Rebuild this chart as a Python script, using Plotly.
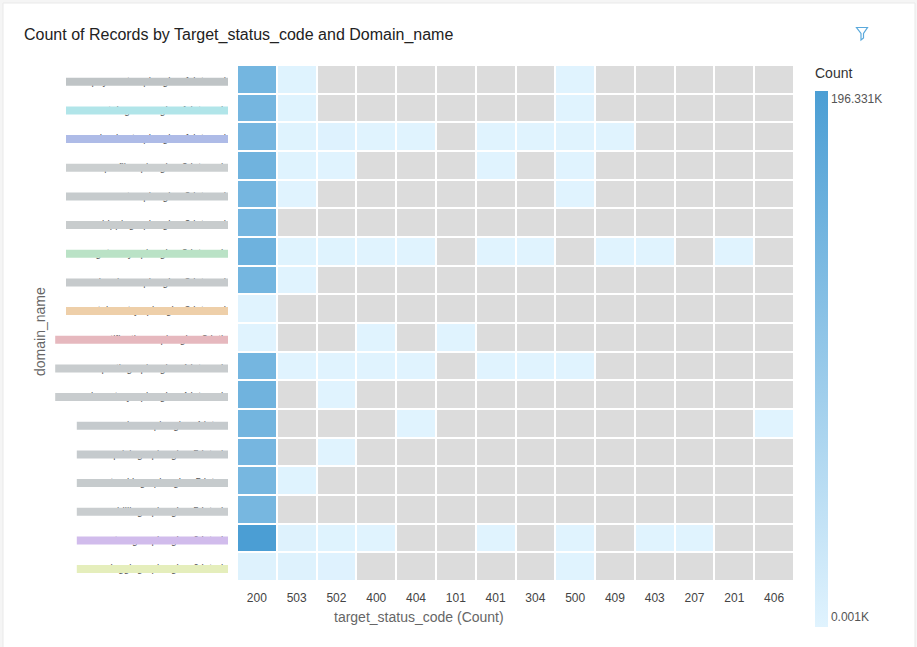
import plotly.graph_objects as go

W, H = 917, 647
N = None

status_codes = ["200", "503", "502", "400", "404", "101", "401", "304", "500", "409", "403", "207", "201", "406"]

# Real names are obscured in the reference; neutral placeholders of matching length sit under the bars.
domains = [
    "payments.api.region-1.internal",
    "catalog-svc.region-1.internal.",
    "checkout.api.region-1.internal",
    "profile-api.region-2.internal.",
    "accounts.api.region-2.internal",
    "shipping-api.region-2.internal",
    "gateway.api.region-3.internal.",
    "invoices.api.region-3.internal",
    "telemetry.api.region3.internal",
    "notifications.api.region-3.intl.",
    "reporting.api.region-4.internal.",
    "inventory-api.region-4.internal.",
    "sessions.api.region-4.intra.",
    "pricing-api.region-5.intrnl.",
    "tracking.api.region-5.intra.",
    "billing-api.region-5.intrnl.",
    "storage.api.region-6.intrnl.",
    "logging-api.region-6.intrnl.",
]
redaction_colors = [
    "#bfc4c6", "#b1e5e9", "#aebbe7", "#cbcfd0", "#c6cbcd", "#c8cccd",
    "#bae2c6", "#c6cacc", "#eecfa9", "#e6b8be", "#c8ccce", "#c8ccce",
    "#c5cacd", "#c5cacd", "#c6cbcd", "#c9cdcf", "#d1bcec", "#e5eebc",
]

count_200 = [142, 141, 140, 148, 141, 141, 150, 142, 0.4, 0.5, 141, 148, 143, 140, 139, 139, 196.331, 2.5]
count_503 = [0.8, 0.7, 0.9, 0.7, 0.6, N, 0.8, 0.6, N, N, 0.6, N, N, N, 0.7, N, 2.5, 2.5]
count_502 = [N, N, 2.0, 0.6, N, N, 0.7, N, N, N, 0.6, 0.5, N, 0.6, N, N, 0.8, 1.5]
count_400 = [N, N, 0.4, N, N, N, 0.5, N, N, 0.4, 0.5, N, N, N, N, N, 0.5, N]
count_404 = [N, N, 0.5, N, N, N, 0.5, N, N, N, 0.4, N, 0.4, N, N, N, N, N]
count_101 = [N, N, N, N, N, N, N, N, N, 0.3, N, N, N, N, N, N, N, N]
count_401 = [N, N, 0.3, 0.3, N, N, 0.3, N, N, N, 0.3, N, N, N, N, N, 0.3, N]
count_304 = [N, N, 0.3, N, N, N, 0.3, N, N, N, 0.3, N, N, N, N, N, N, N]
count_500 = [0.4, 0.4, 0.4, 0.4, 0.4, N, N, N, N, N, 0.3, N, N, N, N, N, 0.3, 0.3]
count_409 = [N, N, 0.2, N, N, N, 0.2, N, N, N, N, N, N, N, N, N, N, N]
count_403 = [N, N, N, N, N, N, 0.2, N, N, N, N, N, N, N, N, N, 0.2, N]
count_207 = [N, N, N, N, N, N, N, N, N, N, N, N, N, N, N, N, 0.1, N]
count_201 = [N, N, N, N, N, N, 0.1, N, N, N, N, N, N, N, N, N, N, N]
count_406 = [N, N, N, N, N, N, N, N, N, N, N, N, 0.1, N, N, N, N, N]

columns = [count_200, count_503, count_502, count_400, count_404, count_101, count_401,
           count_304, count_500, count_409, count_403, count_207, count_201, count_406]
z = [list(r) for r in zip(*columns)]
absent = [[1 if v is None else None for v in r] for r in z]

PX = lambda x: x / W
PY = lambda y: 1 - y / H

fig = go.Figure()
fig.add_trace(go.Heatmap(
    z=absent, x=status_codes, y=domains, xgap=2, ygap=2, showscale=False, hoverinfo="skip",
    colorscale=[[0, "#dcdcdc"], [1, "#dcdcdc"]], xaxis="x", yaxis="y",
))
fig.add_trace(go.Heatmap(
    z=z, x=status_codes, y=domains, xgap=2, ygap=2, zmin=0.001, zmax=196.331,
    colorscale=[[0, "#e0f3fe"], [1, "#4b9ed4"]], xaxis="x", yaxis="y",
    colorbar=dict(
        x=PX(815), xanchor="left", xpad=0, y=PY(91), yanchor="top", ypad=0,
        thickness=13, thicknessmode="pixels", len=536, lenmode="pixels", outlinewidth=0,
        tickmode="array", tickvals=[3.6, 193.4], ticktext=["0.001K", "196.331K"],
        ticks="", tickfont=dict(size=12, color="#555"),
    ),
))
fig.add_trace(go.Bar(
    y=domains, x=[len(d) for d in domains], orientation="h", width=0.28, offset=-0.056,
    marker=dict(color=redaction_colors, line_width=0), xaxis="x2", yaxis="y",
    showlegend=False, hoverinfo="skip",
))

fig.update_layout(
    width=W, height=H, margin=dict(l=0, r=0, t=0, b=0), autosize=False,
    paper_bgcolor="#f5f5f5", plot_bgcolor="rgba(0,0,0,0)",
    font=dict(family="Liberation Sans, Arial, sans-serif"),
    title=dict(text="Count of Records by Target_status_code and Domain_name",
               x=PX(24), xanchor="left", y=PY(34), yanchor="middle",
               font=dict(size=16, color="#222")),
    xaxis=dict(domain=[PX(237), PX(794)], anchor="y", side="bottom", type="category",
               showgrid=False, zeroline=False, showline=False,
               ticks="outside", ticklen=6, tickcolor="rgba(0,0,0,0)",
               tickfont=dict(size=12, color="#444")),
    yaxis=dict(domain=[PY(581), PY(65)], anchor="x", type="category", autorange="reversed",
               showgrid=False, zeroline=False, showline=False,
               ticks="outside", ticklen=8, tickcolor="rgba(0,0,0,0)", ticklabelshift=-2,
               tickfont=dict(size=10, color="#555")),
    xaxis2=dict(domain=[0, PX(228)], anchor="y", range=[228 / 5.4, 0], visible=False),
    shapes=[
        dict(type="rect", xref="paper", yref="paper", x0=PX(3), x1=PX(915), y0=-0.02, y1=PY(3),
             fillcolor="white", line=dict(color="#e9e9e9", width=1), layer="below"),
        dict(type="path", xref="paper", yref="paper", layer="above",
             path=f"M {PX(856.5)} {PY(27.5)} L {PX(867.5)} {PY(27.5)} L {PX(863.5)} {PY(33.5)} "
                  f"L {PX(863.5)} {PY(38)} L {PX(861)} {PY(40)} L {PX(861)} {PY(33.5)} Z",
             line=dict(color="#5aa9dc", width=1.2), fillcolor="rgba(0,0,0,0)"),
    ],
    annotations=[
        dict(text="Count", x=PX(815), y=PY(73), xref="paper", yref="paper",
             showarrow=False, xanchor="left", yanchor="middle", xshift=-2, font=dict(size=14, color="#333")),
        dict(text="target_status_code (Count)", x=PX(419), y=PY(617), xref="paper", yref="paper",
             showarrow=False, xanchor="center", yanchor="middle", font=dict(size=14, color="#666")),
        dict(text="domain_name", x=PX(40), y=PY(332), xref="paper", yref="paper", textangle=-90,
             showarrow=False, xanchor="center", yanchor="middle", font=dict(size=14, color="#666")),
    ],
)

fig.write_html("out.html", config={"displayModeBar": False},
               post_script="document.body.style.margin='0';document.documentElement.style.overflow='hidden';")
